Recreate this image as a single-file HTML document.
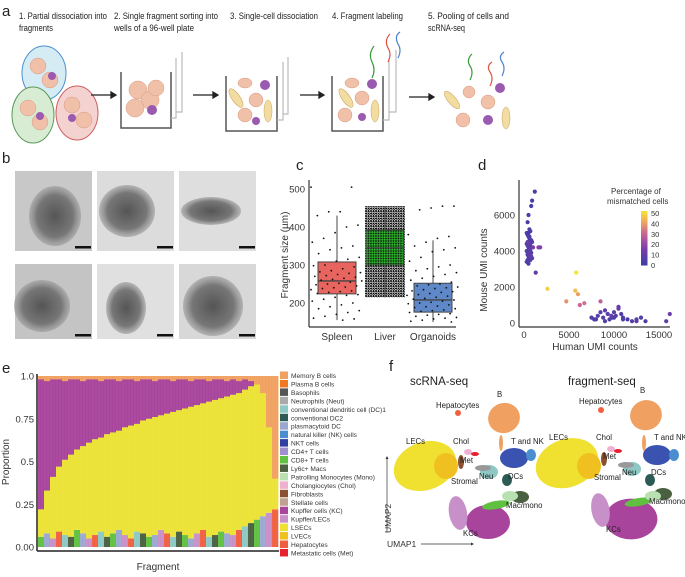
<!DOCTYPE html>
<html><head><meta charset="utf-8"><style>
html,body{margin:0;padding:0;background:#fff;}
svg{display:block;font-family:"Liberation Sans",sans-serif;}
</style></head><body>
<svg id="fig" width="685" height="577" viewBox="0 0 685 577" xmlns="http://www.w3.org/2000/svg">
<defs>
<radialGradient id="frag" cx="50%" cy="50%" r="50%"><stop offset="0" stop-color="#555"/><stop offset="0.7" stop-color="#777"/><stop offset="1" stop-color="#999" stop-opacity="0.6"/></radialGradient>
<pattern id="dots" width="2.5" height="2.5" patternUnits="userSpaceOnUse"><rect width="2.5" height="2.5" fill="#fff"/><circle cx="1" cy="1" r="1" fill="#000"/><circle cx="2.2" cy="2.1" r="0.6" fill="#111"/></pattern>
<pattern id="gdots" width="2.5" height="2.5" patternUnits="userSpaceOnUse"><rect width="2.5" height="2.5" fill="#1f9a1f"/><circle cx="1" cy="1" r="0.8" fill="#111"/><circle cx="2.2" cy="2.1" r="0.6" fill="#3fc03f"/></pattern>
</defs>

<!-- Panel a -->
<g font-size="9.6" fill="#222">
<text x="2" y="16" font-size="15">a</text>
<text x="19" y="19" textLength="88" lengthAdjust="spacingAndGlyphs">1. Partial dissociation into</text>
<text x="19" y="31" textLength="34" lengthAdjust="spacingAndGlyphs">fragments</text>
<text x="114" y="19" textLength="104" lengthAdjust="spacingAndGlyphs">2. Single fragment sorting into</text>
<text x="114" y="31" textLength="80" lengthAdjust="spacingAndGlyphs">wells of a 96-well plate</text>
<text x="230" y="19" textLength="88" lengthAdjust="spacingAndGlyphs">3. Single-cell dissociation</text>
<text x="332" y="19" textLength="71" lengthAdjust="spacingAndGlyphs">4. Fragment labeling</text>
<text x="428" y="19" textLength="81" lengthAdjust="spacingAndGlyphs">5. Pooling of cells and</text>
<text x="428" y="31" textLength="37" lengthAdjust="spacingAndGlyphs">scRNA-seq</text>
<ellipse cx="44" cy="73" rx="22" ry="27" fill="#d6ecf4" stroke="#4a90d0"/>
<ellipse cx="33" cy="115" rx="21" ry="28" fill="#d8ecd4" stroke="#5a9a5a"/>
<ellipse cx="77" cy="113" rx="21" ry="27" fill="#f4d2d0" stroke="#d06060"/>
<g fill="#f0c0a8" stroke="#d89880" stroke-width="0.5">
<circle cx="38" cy="66" r="8"/><circle cx="50" cy="80" r="8"/><circle cx="28" cy="108" r="8"/><circle cx="40" cy="122" r="8"/><circle cx="72" cy="105" r="8"/><circle cx="84" cy="120" r="8"/>
</g>
<g fill="#9a5ab0"><circle cx="52" cy="76" r="4"/><circle cx="40" cy="116" r="4"/><circle cx="72" cy="118" r="4"/></g>
<g fill="none" stroke="#555" stroke-width="1.5">
<path d="M121 72 V128 H171 V72"/><path d="M226 76 V131 H277 V76"/><path d="M332 76 V131 H383 V76"/>
</g>
<g fill="none" stroke="#bbb" stroke-width="1.2"><path d="M176 58 V118 H171 M182 52 V112 H176"/><path d="M283 62 V120 H277 M288 57 V114 H283"/><path d="M389 60 V120 H383 M396 50 V112 H389"/></g>
<g fill="#f0c0a8" stroke="#d89880" stroke-width="0.5">
<circle cx="138" cy="90" r="9"/><circle cx="150" cy="100" r="9"/><circle cx="135" cy="108" r="9"/><circle cx="156" cy="88" r="8"/>
<ellipse cx="245" cy="83" rx="7" ry="5"/><circle cx="256" cy="100" r="7"/><circle cx="245" cy="115" r="7"/>
<ellipse cx="352" cy="83" rx="7" ry="5"/><circle cx="362" cy="98" r="7"/><circle cx="345" cy="115" r="7"/>
<circle cx="469" cy="92" r="6"/><circle cx="488" cy="102" r="7"/><circle cx="463" cy="120" r="7"/>
</g>
<g fill="#9a5ab0"><circle cx="152" cy="110" r="5"/><circle cx="265" cy="85" r="5"/><circle cx="256" cy="121" r="4"/><circle cx="372" cy="84" r="5"/><circle cx="362" cy="117" r="4"/><circle cx="500" cy="88" r="5"/><circle cx="488" cy="120" r="5"/></g>
<g fill="#f2dca0" stroke="#c8a060" stroke-width="0.5"><ellipse cx="236" cy="98" rx="4" ry="11" transform="rotate(-35 236 98)"/><ellipse cx="268" cy="111" rx="4" ry="11"/><ellipse cx="346" cy="98" rx="4" ry="11" transform="rotate(-35 346 98)"/><ellipse cx="375" cy="111" rx="4" ry="11"/><ellipse cx="452" cy="100" rx="4" ry="11" transform="rotate(-40 452 100)"/><ellipse cx="506" cy="118" rx="4" ry="11"/></g>
<g fill="none" stroke-width="1.2"><path d="M372 78 q4 -8 0 -16 q-4 -8 2 -16" stroke="#3a9a3a"/><path d="M388 62 q4 -8 0 -14 q-4 -8 2 -14" stroke="#e05040"/><path d="M398 58 q4 -8 0 -14 q-4 -8 2 -12" stroke="#4a80d0"/><path d="M470 80 q4 -8 0 -14 q-4 -6 2 -12" stroke="#3a9a3a"/><path d="M490 86 q4 -8 0 -14 q-4 -6 2 -10" stroke="#e05040"/><path d="M502 76 q4 -8 0 -14 q-4 -6 2 -10" stroke="#4a80d0"/></g>
<g stroke="#222" stroke-width="1.3" fill="#222">
<line x1="91" y1="95" x2="112" y2="95"/><path d="M116 95 l-5 -3 v6z"/>
<line x1="193" y1="95" x2="214" y2="95"/><path d="M218 95 l-5 -3 v6z"/>
<line x1="300" y1="95" x2="320" y2="95"/><path d="M324 95 l-5 -3 v6z"/>
<line x1="409" y1="97" x2="430" y2="97"/><path d="M434 97 l-5 -3 v6z"/>
</g>
</g>

<!-- Panel b -->
<g>
<text x="2" y="163" font-size="15" fill="#222">b</text>
<g id="micro"></g>
</g>

<!-- Panel c -->
<g id="pc">
<text x="296" y="170" font-size="15" fill="#222">c</text>
<text transform="translate(288 255) rotate(-90)" font-size="10" text-anchor="middle" fill="#333">Fragment size (µm)</text>
</g>

<!-- Panel d -->
<g id="pd">
<text x="478" y="170" font-size="15" fill="#222">d</text>
<text transform="translate(487 270) rotate(-90)" font-size="10" text-anchor="middle" fill="#333">Mouse UMI counts</text>
<text x="595" y="350" font-size="10" text-anchor="middle" fill="#333">Human UMI counts</text>
<text x="611" y="194" font-size="8" fill="#333">Percentage of</text>
<text x="607" y="204" font-size="8" fill="#333">mismatched cells</text>
</g>

<!-- Panel e -->
<g id="pe">
<text x="2" y="373" font-size="15" fill="#222">e</text>
<text transform="translate(9 462) rotate(-90)" font-size="10" text-anchor="middle" fill="#333">Proportion</text>
<text x="158" y="570" font-size="10" text-anchor="middle" fill="#333">Fragment</text>
</g>

<!-- Panel f -->
<g id="pf">
<text x="389" y="371" font-size="15" fill="#222">f</text>
<text x="410" y="385" font-size="11.5" fill="#222">scRNA-seq</text>
<text x="568" y="385" font-size="11.5" fill="#222">fragment-seq</text>
<text x="387" y="547" font-size="8.5" fill="#333">UMAP1</text>
<line x1="421" y1="544" x2="472" y2="544" stroke="#333" stroke-width="0.7"/><path d="M474 544 l-3 -1.5 v3z" fill="#333"/>
<text transform="translate(391 533) rotate(-90)" font-size="8.5" fill="#333">UMAP2</text>
<line x1="387" y1="532" x2="387" y2="458" stroke="#333" stroke-width="0.7"/><path d="M387 456 l-1.5 3 h3z" fill="#333"/>
</g>
</svg>
<script>
const NS='http://www.w3.org/2000/svg';
function mk(tag,attrs,parent){const e=document.createElementNS(NS,tag);for(const k in attrs)e.setAttribute(k,attrs[k]);parent.appendChild(e);return e;}

// ---------- Panel c data ----------
const cCategories=['Spleen','Liver','Organoids'];
const cQ1=[224,300,176];
const cMedian=[258,345,208];
const cQ3=[308,392,252];
const cWhiskLo=[155,215,150];
const cWhiskHi=[430,455,365];
const cTicks=[200,300,400,500];
const spleenPts=[505,505,440,440,430,405,400,385,370,360,350,345,340,330,320,315,310,300,298,295,290,285,282,280,278,275,272,270,268,265,262,260,258,255,252,250,248,245,242,240,238,235,232,230,228,225,222,220,215,210,205,200,195,190,185,180,175,170,165,160,158,155];
const organoidPts=[455,455,450,445,380,375,370,360,350,345,340,335,320,310,300,295,290,285,280,275,270,265,260,255,250,248,245,242,240,238,235,232,230,228,225,222,220,218,215,212,210,208,205,202,200,198,195,192,190,188,185,182,180,178,175,172,170,168,165,162,160,158,155,152,150];
(function(){
  const g=document.getElementById('pc');
  const x0=309,x1=456,yb=327;
  const y=v=>303-(v-200)*0.38;
  const cx=i=>337+i*48;
  mk('line',{x1:x0,y1:180,x2:x0,y2:yb,stroke:'#333','stroke-width':1.2},g);
  mk('line',{x1:x0,y1:yb,x2:x1,y2:yb,stroke:'#333','stroke-width':1.2},g);
  cTicks.forEach(t=>{
    const tx=mk('text',{x:x0-4,y:y(t)+3.5,'font-size':9.5,'text-anchor':'end',fill:'#333'},g);tx.textContent=t;
    
    
  });
  cCategories.forEach((c,i)=>{
    const tx=mk('text',{x:cx(i),y:340,'font-size':10,'text-anchor':'middle',fill:'#333'},g);tx.textContent=c;
    
    
  });
  const fills=['#e8645e','#1f8a1f','#5e88c8'];
  const cloud=mk('rect',{x:cx(1)-20,y:y(cWhiskHi[1]),width:40,height:y(cWhiskLo[1])-y(cWhiskHi[1]),fill:'url(#dots)'},g);
  
  
  cCategories.forEach((c,i)=>{
    const w=38;
    const wl=mk('line',{x1:cx(i),x2:cx(i),y1:y(cWhiskHi[i]),y2:y(cWhiskLo[i]),stroke:'#666','stroke-width':1.2},g);
    
    
    const b=mk('rect',{x:cx(i)-w/2,y:y(cQ3[i]),width:w,height:y(cQ1[i])-y(cQ3[i]),fill:i==1?'url(#gdots)':fills[i],stroke:'#444','stroke-width':1},g);
    
    
    const m=mk('line',{x1:cx(i)-w/2,x2:cx(i)+w/2,y1:y(cMedian[i]),y2:y(cMedian[i]),stroke:'#444','stroke-width':1.3},g);
    
    
  });
  function jit(k){return ((k*73)%41)/41-0.5;}
  spleenPts.forEach((v,k)=>{const p=mk('circle',{cx:cx(0)+jit(k)*52,cy:y(v),r:0.9,fill:'#111'},g);});
  organoidPts.forEach((v,k)=>{const p=mk('circle',{cx:cx(2)+jit(k+5)*52,cy:y(v),r:0.9,fill:'#111'},g);});
})();

// ---------- Panel d data ----------
const dHuman=[1200,900,800,500,400,600,700,300,400,500,600,800,900,300,400,500,600,700,800,400,500,600,700,300,500,600,700,800,400,500,600,900,1000,700,800,1600,1800,500,600,700,300,400,1300,2600,5800,5700,6000,4700,6200,6700,8500,7500,7800,8200,8500,8800,9000,9300,9500,9800,10000,10200,10500,10800,11000,11500,12000,12500,13000,13500,8000,9000,10000,11000,12500,15800,16200,10500,9700];
const dMouse=[7300,6800,6500,6000,5600,5200,5100,5000,4900,4800,4700,4600,4500,4400,4300,4200,4100,4000,3900,3800,3700,3600,3500,3400,3300,4400,4300,4200,4500,4000,3800,3600,4200,3900,3700,4200,4200,5000,4800,4600,4000,3500,2800,1900,2800,1800,1600,1200,1000,1100,1200,300,200,400,600,300,700,500,200,300,600,400,800,500,300,200,100,200,300,100,200,100,300,200,100,100,500,900,400];
const dPct=[2,3,2,3,2,3,2,4,3,2,5,6,4,3,5,7,8,5,4,3,5,6,7,4,3,9,8,6,10,12,8,6,15,7,9,18,17,3,4,5,6,4,8,48,53,45,40,38,30,32,28,5,4,6,7,5,8,6,4,5,7,6,9,5,4,3,5,6,4,3,5,6,4,5,7,8,12,10,9];
const dXTicks=[0,5000,10000,15000];
const dYTicks=[0,2000,4000,6000];
const dLegendTicks=[0,10,20,30,40,50];
function plasma(p){
  const stops=[[0,[63,63,165]],[15,[120,60,170]],[30,[200,100,150]],[42,[240,170,90]],[52,[245,230,50]]];
  for(let i=1;i<stops.length;i++){if(p<=stops[i][0]){const a=stops[i-1],b=stops[i],t=(p-a[0])/(b[0]-a[0]);return 'rgb('+a[1].map((c,j)=>Math.round(c+(b[1][j]-c)*t)).join(',')+')';}}
  return 'rgb(245,230,50)';
}
(function(){
  const g=document.getElementById('pd');
  const x=h=>524+h*135/15000, y=m=>323-m*108/6000;
  mk('line',{x1:519,y1:180,x2:519,y2:327,stroke:'#333','stroke-width':1.2},g);
  mk('line',{x1:519,y1:327,x2:670,y2:327,stroke:'#333','stroke-width':1.2},g);
  dXTicks.forEach(t=>{const tx=mk('text',{x:x(t),y:338,'font-size':9.5,'text-anchor':'middle',fill:'#333'},g);tx.textContent=t;});
  dYTicks.forEach(t=>{const tx=mk('text',{x:515,y:y(t)+3.5,'font-size':9.5,'text-anchor':'end',fill:'#333'},g);tx.textContent=t;});
  dHuman.forEach((h,i)=>{const c=mk('circle',{cx:x(h),cy:y(dMouse[i]),r:2.1,fill:plasma(dPct[i])},g);});
  const ly=p=>265-p*(54/52);
  for(let p=0;p<52;p+=1){mk('rect',{x:641,y:ly(p+1),width:6.5,height:54/52+0.5,fill:plasma(p)},g);}
  dLegendTicks.forEach(t=>{const tx=mk('text',{x:651,y:ly(t)+3,'font-size':7.5,fill:'#333'},g);tx.textContent=t;});
})();

// ---------- Panel e data ----------
const eBoundary=[0.22,0.33,0.41,0.47,0.51,0.54,0.57,0.59,0.61,0.63,0.64,0.66,0.67,0.68,0.70,0.71,0.72,0.74,0.75,0.76,0.77,0.78,0.79,0.80,0.81,0.82,0.83,0.84,0.85,0.86,0.87,0.88,0.89,0.90,0.92,0.94,0.96,0.98,0.99,1.0];
const eOther=[0.06,0.08,0.05,0.09,0.07,0.06,0.10,0.08,0.05,0.07,0.09,0.06,0.08,0.10,0.07,0.05,0.09,0.08,0.06,0.07,0.10,0.08,0.06,0.09,0.07,0.05,0.08,0.10,0.06,0.07,0.09,0.08,0.07,0.10,0.12,0.14,0.16,0.18,0.20,0.22];
const eMemB=[0.02,0.03,0.02,0.02,0.03,0.02,0.02,0.03,0.02,0.02,0.03,0.02,0.02,0.03,0.02,0.02,0.03,0.02,0.02,0.03,0.02,0.02,0.03,0.02,0.02,0.03,0.02,0.02,0.03,0.02,0.02,0.03,0.02,0.03,0.02,0.03,0.05,0.1,0.3,0.6];
const eTicks=[0,0.25,0.5,0.75,1.0];
const eTickLabels=['0.00','0.25','0.5','0.75','1.0'];
const eLegend=['Memory B cells','Plasma B cells','Basophils','Neutrophils (Neut)','conventional dendritic cell (DC)1','conventional DC2','plasmacytoid DC','natural killer (NK) cells','NKT cells','CD4+ T cells','CD8+ T cells','Ly6c+ Macs','Patrolling Monocytes (Mono)','Cholangiocytes (Chol)','Fibroblasts','Stellate cells','Kupffer cells (KC)','Kupffer/LECs','LSECs','LVECs','Hepatocytes','Metastatic cells (Met)'];
const eColors=['#f0a060','#f07820','#555555','#aaaaaa','#8ec8c4','#2c5a55','#9aa8d0','#4a8ed0','#3040a0','#a090d0','#60c040','#4a6040','#b8e0b0','#f0b0d0','#8a5030','#c0a090','#a8449c','#c890c8','#f0e030','#f0c020','#f06040','#e82030'];
(function(){
  const g=document.getElementById('pe');
  const y=v=>547-v*171, bw=6, x=i=>38+i*bw;
  const mixCols=['#60c040','#9aa8d0','#c890c8','#f06040','#8ec8c4','#4a6040'];
  eBoundary.forEach((b,i)=>{
    const o=mk('rect',{x:x(i),y:y(eOther[i]),width:bw+0.3,height:eOther[i]*171,fill:mixCols[i%mixCols.length]},g);
    
    const l=mk('rect',{x:x(i),y:y(b),width:bw+0.3,height:(b-eOther[i])*171,fill:'#ece235'},g);
    
    const k=mk('rect',{x:x(i),y:y(1),width:bw+0.3,height:(1-b)*171,fill:'#a8449c'},g);
    
    const m=mk('rect',{x:x(i),y:y(1),width:bw+0.3,height:eMemB[i]*171,fill:'#f0a060'},g);
    
  });
  for(let sx=39;sx<278;sx+=3){mk('line',{x1:sx,x2:sx,y1:376,y2:547,stroke:'#fff','stroke-opacity':0.08,'stroke-width':1},g);}
  mk('line',{x1:37,y1:374,x2:37,y2:551,stroke:'#222','stroke-width':1.5},g);
  mk('line',{x1:37,y1:551,x2:279,y2:551,stroke:'#222','stroke-width':1.5},g);
  eTicks.forEach((t,i)=>{const tx=mk('text',{x:34,y:y(t)+3.5,'font-size':9.5,'text-anchor':'end',fill:'#333'},g);tx.textContent=eTickLabels[i];});
  eLegend.forEach((n,i)=>{
    const yy=371.5+i*8.45;
    const s=mk('rect',{x:280,y:yy,width:8,height:7.5,fill:eColors[i]},g);
    
    const t=mk('text',{x:291,y:yy+6.5,'font-size':6.6,fill:'#333'},g);t.textContent=n;
    
  });
})();

// ---------- Panel b micrographs ----------
(function(){
  const g=document.getElementById('micro');
  const cols=[15,97,179], rows=[171,264], bgs=['#c8c8c8','#dcdcdc','#dedede','#c4c4c4','#e0e0e0','#d8d8d8'];
  const blobs=[[48,45,26,30],[38,40,28,26],[40,40,30,14],[35,42,28,26],[37,44,20,26],[42,42,30,30]];
  let k=0;
  rows.forEach(r=>cols.forEach(c=>{
    const rc=mk('rect',{x:c,y:r,width:77,height:r==171?80:75,fill:bgs[k]},g);
    
    const b=blobs[k];
    mk('ellipse',{cx:c+b[0]-8,cy:r+b[1],rx:b[2],ry:b[3],fill:'url(#frag)'},g);
    mk('rect',{x:c+60,y:r+(r==171?75:70),width:16,height:2.5,fill:'#111'},g);
    k++;
  }));
})();

// ---------- Panel f UMAP ----------
const umapClusters=['LECs','B','KCs','Kupffer/LECs','T and NK','Mac/mono','Ly6c','DCs','Neu','Hepatocytes','Stromal','Chol','Met'];
(function(){
  const g=document.getElementById('pf');
  const shapes=[
    ['#f0e030',425,466,32,24,-20],['#f0a060',504,418,16,15,-20],['#a8449c',488,522,22,17,0],['#c890c8',458,513,9,17,-10],
    ['#3a52b0',514,458,14,10,0],['#60c040',496,505,14,4,-10],['#4a6040',520,497,9,6,0],['#8ec8c4',489,472,9,7,0],
    ['#999999',483,468,8,3,0],['#f06040',458,413,3,3,0],['#8a5030',461,462,3,7,0],['#f0b0d0',468,452,4,3,0],['#e82030',475,454,4,2,0]
  ];
  [0,143].forEach((dx,j)=>{
    shapes.forEach((s,i)=>{
      const e=mk('ellipse',{cx:s[1]+dx,cy:s[2]-(j?3:0),rx:s[3]*(j&&i==2?1.2:1),ry:s[4]*(j&&i==2?1.2:1),fill:s[0],transform:'rotate('+s[5]+' '+(s[1]+dx)+' '+s[2]+')'},g);
      
      
    });
    mk('ellipse',{cx:446+dx,cy:466,rx:12,ry:13,fill:'#f0c020'},g);
    mk('ellipse',{cx:501+dx,cy:443,rx:2,ry:8,fill:'#f0a060'},g);
    mk('ellipse',{cx:531+dx,cy:455,rx:5,ry:6,fill:'#4a8ed0'},g);
    mk('ellipse',{cx:507+dx,cy:480,rx:5,ry:6,fill:'#2c5a55'},g);
    mk('ellipse',{cx:510+dx,cy:496,rx:8,ry:5,fill:'#b8e0b0'},g);
    const labels=[['B',497,397],['Hepatocytes',436,408],['LECs',406,444],['Chol',453,444],['T and NK',511,444],['Met',460,463],['Stromal',451,484],['Neu',479,479],['DCs',508,479],['Mac/mono',506,508],['KCs',463,536]];
    labels.forEach(l=>{
      const t=mk('text',{x:l[1]+dx,y:l[2]-(j?4:0),'font-size':7.8,fill:'#222'},g);t.textContent=l[0];
      
    });
  });
})();
</script>
</body></html>
